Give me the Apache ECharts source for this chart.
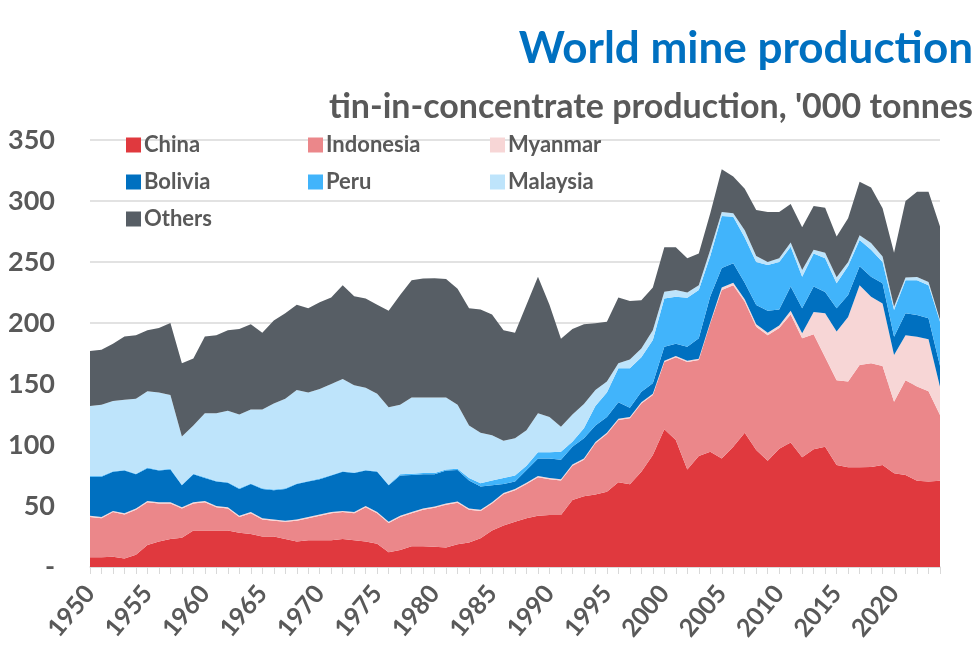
<!DOCTYPE html>
<html>
<head>
<meta charset="utf-8">
<script src="https://cdn.jsdelivr.net/npm/echarts/dist/echarts.min.js"></script>
<style>
  html, body { margin: 0; padding: 0; background: #fff; }
  #chart { width: 980px; height: 664px; }
</style>
</head>
<body>
<div id="chart"></div>
<script>
// '000 tonnes
var years = ['1950','1951','1952','1953','1954','1955','1956','1957','1958','1959',
  '1960','1961','1962','1963','1964','1965','1966','1967','1968','1969',
  '1970','1971','1972','1973','1974','1975','1976','1977','1978','1979',
  '1980','1981','1982','1983','1984','1985','1986','1987','1988','1989',
  '1990','1991','1992','1993','1994','1995','1996','1997','1998','1999',
  '2000','2001','2002','2003','2004','2005','2006','2007','2008','2009',
  '2010','2011','2012','2013','2014','2015','2016','2017','2018','2019',
  '2020','2021','2022','2023','2024'];

var china = [8,8,8.5,7,10,18,21,23,24,30,
  30,30,30,28,27,25,25,23,21,22,
  22,22,23,22,21,19,12,14,17,17,
  16.7,16,18.6,20,23.5,30,34,37,40,42,
  42.6,42.6,55,58,59.5,61.7,69.4,67.8,78,91.8,
  112.9,104,80,91,94.5,89,98.6,110,96,87,
  97,102,90,96.5,98.6,83.6,81.7,81.7,82,83.6,
  76.8,75.4,70.7,70,70.7];

var indonesia = [33,32,36.5,36,37,35,31,29,24,22,
  23,19,18,13,17,14,13,14,17,18,
  20,22,22,22,28,25,24,27,27,30,
  31.8,35,34.1,27,22.5,22,25.6,26,28,31.5,
  29.4,28.4,28,30,42,47.3,51.1,54.2,56,49.2,
  55.1,68,88,78.7,105.2,138,132.4,107.5,101,103,
  99,105,97.5,94.2,73.4,69.4,70.3,83.9,85,81.2,
  58.7,77.6,77.3,74,53.9];

var myanmar = [1,1,1,1,1,1,1,1,1,1,
  1,1,1,1,1,1,1,1,1,1,
  1,1,1,1,1,1,1,1,1,1,
  1,1,1,1,1,1,1,1,1,1,
  1,1,1,1,1,1,1,1,1,1,
  1,1,1,1,1,2,2,2,2,2,
  2,3,4,18.3,36,40,53,65.4,54.6,51.2,
  38.3,37,40.8,42.6,23.2];

var bolivia = [32,33,32,35,28,27,26,27,18,23,
  19,20,20,22,23,24,24,26,29,29,
  29,30,32,32,29,33,30,33,30.5,28,
  26.5,27,25.8,23,19,14,7.4,6,10.5,14.5,
  16,16,14.6,16.5,13.5,13,13.5,7.6,8.7,8.6,
  11.6,10,11.6,16.8,21.3,16,16,13.5,15.8,18,
  13,20,20.5,21,17.5,19,18,15.5,16.4,16.5,
  15,18,17.8,17.2,17.2];

var peru = [0.5,0.5,0.5,0.5,0.5,0.5,0.5,0.5,0.5,0.5,
  0.5,0.5,0.5,0.5,0.5,0.5,0.5,0.5,0.5,0.5,
  0.5,0.5,0.5,0.5,0.5,0.5,0.5,1,1,1,
  1,1,1,2,2.6,4,5,5,3.5,5,
  5,6.5,4.1,8.2,16,20,28,32.4,28.3,35.4,
  39.4,38.6,40.1,39.5,33,42.7,38,37,35.2,37.5,
  39,32.5,26,27,27.5,20.5,23.7,21.5,22,17.5,
  21.9,27,28.4,27.2,36];

var malaysia = [57.5,58.5,57.5,57.5,61.5,62.5,63.5,60.5,39.5,39.5,
  52.5,55.5,58.5,60.5,60.5,64.5,70.5,73.5,76.5,72.5,
  73.5,74.5,75.5,71.5,67.5,63.5,63.5,57,62.5,62,
  62,59,52.5,43,41.4,37,30.5,30.5,29,32,
  29,20.5,22.3,19.9,13,9,4,7,7,8,
  5.7,5.4,4.3,4,5,3.3,3,6,5,2.5,
  3,3.5,5.5,3,4.5,5,3.3,4,5.5,4.6,
  2.7,2.2,2.7,2.7,1.4];

var others = [45,45,47,52,52,50,53,59,60,55,
  63,64,66,70,70,63,68,70,70,69,
  71,71,77,73,73,73,79,90,96,97.5,
  97.6,97,95,96,101,99,90.5,86.5,103,112,
  92,72,70,65.4,54.7,49,53.8,48,39.6,35,
  36.3,35,28,26,30,35,30,34,37.6,41,
  38,31.5,35,36,37,33.5,35.8,43.8,45.5,39.4,
  44.2,62.8,69.9,73.9,76.6];

var yTicks = [0, 50, 100, 150, 200, 250, 300, 350];

var names = ['China', 'Indonesia', 'Myanmar', 'Bolivia', 'Peru', 'Malaysia', 'Others'];
var colors = ['#E0393E', '#EB878A', '#F7D6D6', '#0070C0', '#41B4FB', '#BEE4FB', '#575E65'];
var values = [china, indonesia, myanmar, bolivia, peru, malaysia, others];

var FONT = 'Lato';
var GREY = '#595959';

var chart = echarts.init(document.getElementById('chart'), null, { renderer: 'canvas' });

function legendCol(left, data) {
  return {
    orient: 'vertical',
    left: left,
    top: 129,
    itemWidth: 15,
    itemHeight: 15,
    itemGap: 15,
    icon: 'rect',
    data: data,
    textStyle: { fontFamily: FONT, fontWeight: 'bold', fontSize: 22, lineHeight: 22, color: GREY, padding: [0, 0, 0, -2] }
  };
}

var series = names.map(function (n, i) {
  return {
    name: n,
    type: 'line',
    stack: 'total',
    symbol: 'none',
    lineStyle: { width: 0 },
    areaStyle: { color: colors[i], opacity: 1 },
    itemStyle: { color: colors[i] },
    data: values[i]
  };
});

chart.setOption({
  animation: false,
  title: [{
    text: 'World mine production',
    right: 2,
    top: 22,
    textStyle: { fontFamily: FONT, fontWeight: 'bold', fontSize: 44, color: '#0070C0' }
  }, {
    text: "tin-in-concentrate production, '000 tonnes",
    right: 2,
    top: 85,
    textStyle: { fontFamily: FONT, fontWeight: 'bold', fontSize: 34, color: GREY }
  }],
  legend: [
    legendCol(121, ['China', 'Bolivia', 'Others']),
    legendCol(303, ['Indonesia', 'Peru']),
    legendCol(485, ['Myanmar', 'Malaysia'])
  ],
  grid: { left: 90, right: 40, top: 140, bottom: 97 },
  xAxis: {
    type: 'category',
    boundaryGap: false,
    data: years,
    axisLine: { lineStyle: { color: '#D9D9D9', width: 1.5 } },
    axisTick: { show: true, interval: 0, length: 7, lineStyle: { color: '#D9D9D9' } },
    axisLabel: {
      interval: 4,
      rotate: 50,
      margin: 22,
      fontFamily: FONT,
      fontWeight: 'bold',
      fontSize: 25,
      color: GREY
    }
  },
  yAxis: {
    type: 'value',
    min: yTicks[0],
    max: yTicks[yTicks.length - 1],
    interval: 50,
    axisLine: { show: false },
    axisTick: { show: false },
    splitLine: { lineStyle: { color: '#D9D9D9', width: 1.5 } },
    axisLabel: {
      margin: 35,
      fontFamily: FONT,
      fontWeight: 'bold',
      fontSize: 27,
      color: GREY,
      formatter: function (v) { return v === 0 ? '-' : v; }
    }
  },
  series: series
});
</script>
</body>
</html>
